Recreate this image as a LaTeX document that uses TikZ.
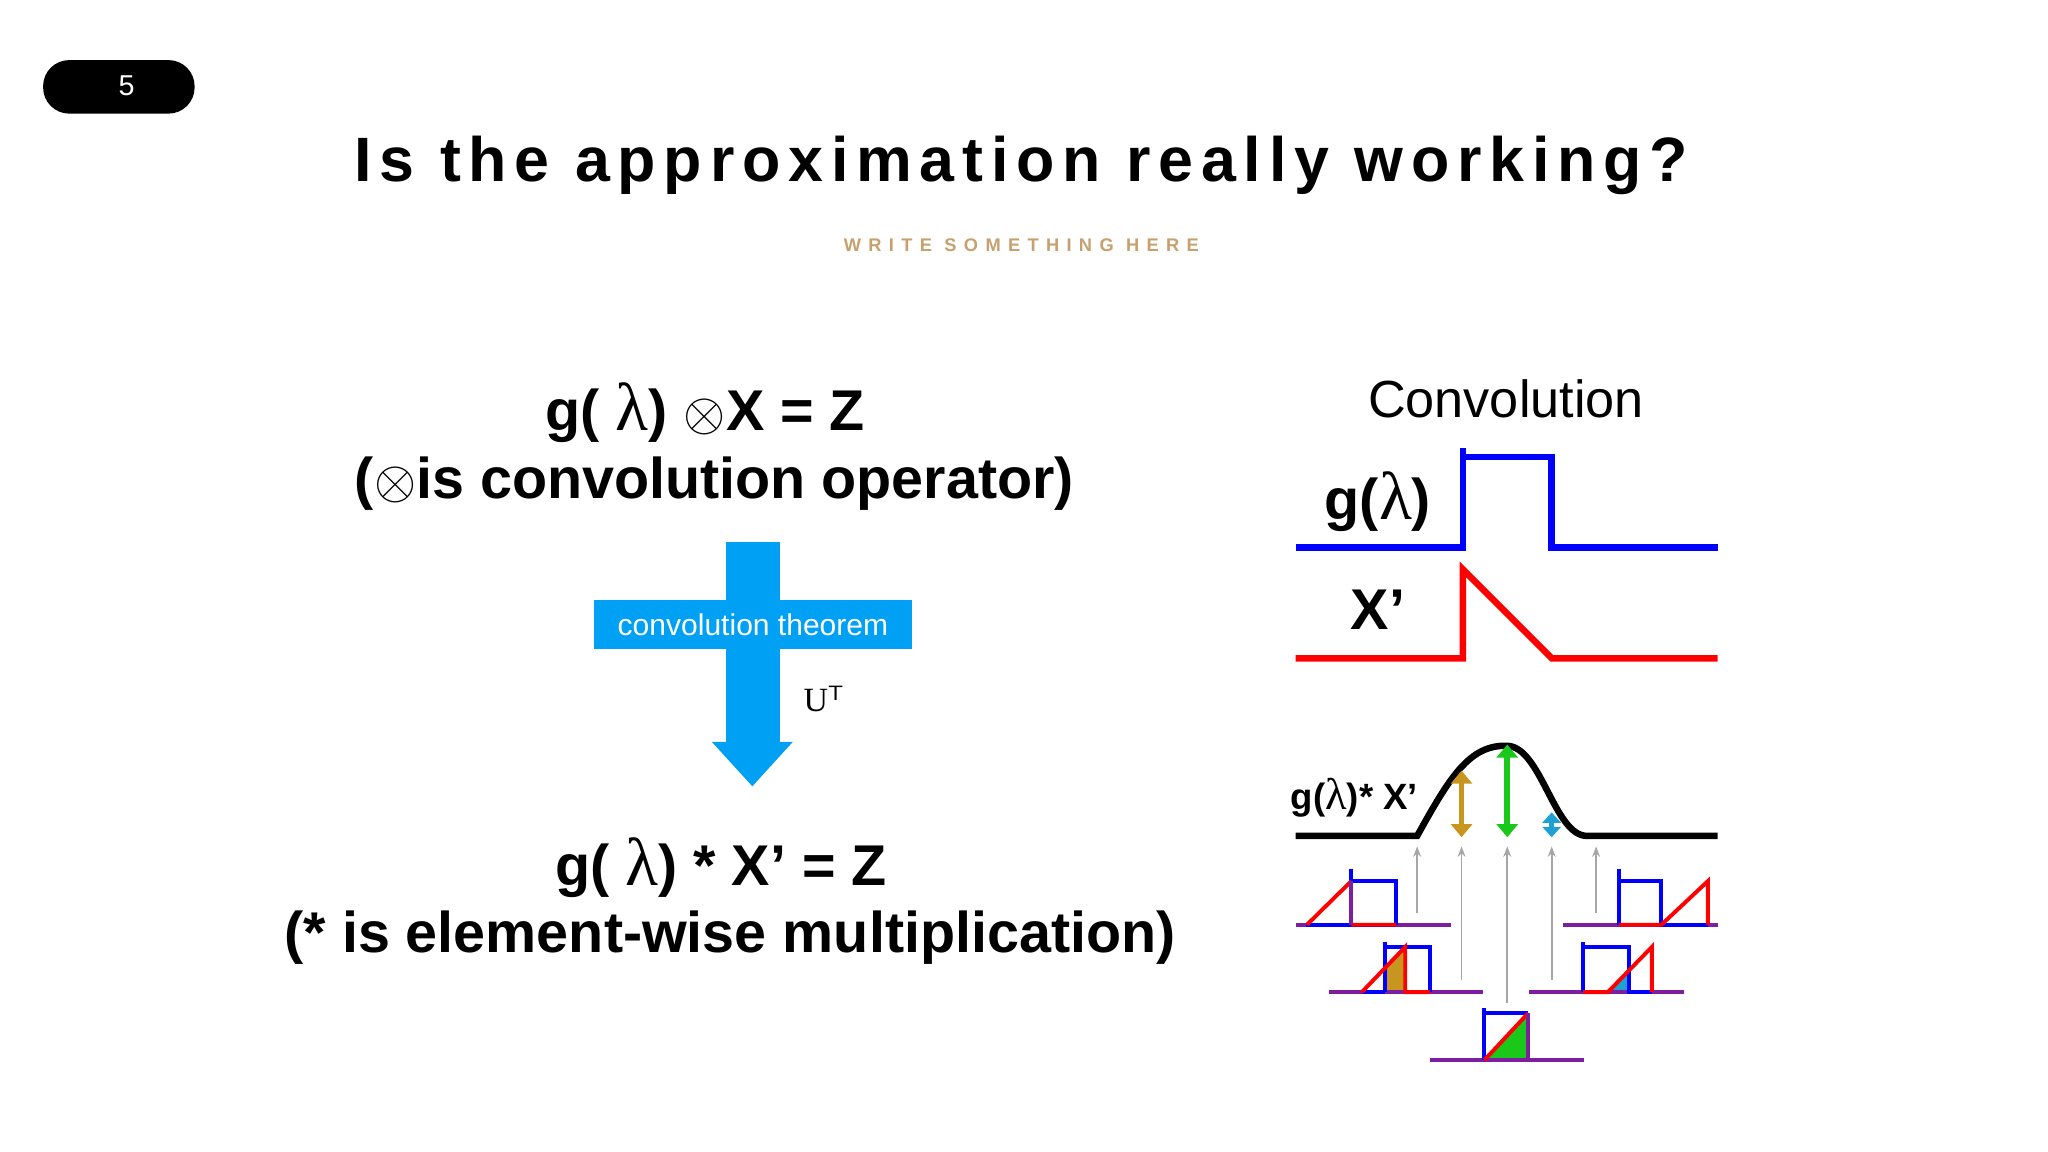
\documentclass[tikz,border=0pt]{standalone}
\usepackage{fontspec}
\setmainfont{Liberation Sans}
\newfontfamily\spacedfont[LetterSpace=12.5]{Liberation Sans}
\newfontfamily\wideSmall[LetterSpace=40]{Liberation Sans}
\newfontfamily\serifU{Liberation Serif}
\newcommand{\lam}{{\serifU\mdseries λ}}
\usetikzlibrary{arrows.meta}
\definecolor{arrowblue}{RGB}{0,160,245}
\definecolor{tan}{RGB}{200,160,110}
\definecolor{pbase}{RGB}{125,30,160}
\definecolor{gold}{RGB}{200,150,30}
\definecolor{grn}{RGB}{25,200,25}
\definecolor{cyn}{RGB}{30,160,210}
\tikzset{
  eq/.style={font=\bfseries\fontsize{22}{26}\selectfont, inner sep=0pt},
  base/.style={pbase, line width=1.5pt},
  rectl/.style={blue, line width=1.5pt},
  tril/.style={red, line width=1.5pt},
  grey/.style={gray!70, line width=0.7pt, -{Stealth[length=4pt,width=3pt]}},
  dbl/.style={line width=2.2pt, {Triangle[length=5pt,width=8pt]}-{Triangle[length=5pt,width=8pt]}},
}
\begin{document}
\begin{tikzpicture}[x=0.5pt,y=-0.5pt]
\useasboundingbox (0,0) rectangle (1568,882);
% page pill
\fill[black, rounded corners=10pt] (33,46) rectangle (149,87);
\node[white, font=\fontsize{11}{13}\selectfont] (pg) at (97,66) {5};
% title
\node[font=\spacedfont\bfseries\fontsize{24}{28}\selectfont, inner sep=0pt] (title) at (782,127) {Is the approximation really working?};
\node[font=\wideSmall\bfseries\fontsize{7}{9}\selectfont, text=tan, inner sep=0pt] (sub) at (782,188) {WRITE SOMETHING HERE};
% equations
\node[eq] (e1) at (540,316) {g( {\fontsize{26}{26}\selectfont\lam}) \textmd{$\otimes$}X = Z};
\node[eq] (e2) at (547,370) {(\textmd{$\otimes$}is convolution operator)};
\node[eq] (e3) at (552,664) {g( {\fontsize{26}{26}\selectfont\lam}) * X’ = Z};
\node[eq] (e4) at (559,718) {(* is element-wise multiplication)};
% big arrow
\fill[arrowblue] (556,415) -- (597,415) -- (597,568) -- (607,568) -- (576,602) -- (545,568) -- (556,568) -- cycle;
\node[fill=arrowblue, text=white, minimum width=121.5pt, minimum height=19pt, inner sep=0pt, font=\fontsize{11.5}{13}\selectfont] (thm) at (576.5,478) {convolution theorem};
\node[font=\serifU\fontsize{13}{15}\selectfont, inner sep=0pt] (ut) at (631,535) {U$^{\textrm{\fontsize{8}{9}\selectfont\sffamily T}}$};
% convolution panel
\node[font=\fontsize{20}{24}\selectfont, inner sep=0pt] (conv) at (1153,305) {Convolution};
\node[eq] (gl) at (1055,384) {g({\fontsize{26}{26}\selectfont\lam})};
\node[eq] (xp) at (1055,467) {X’};
\draw[blue, line width=2.5pt] (992,419) -- (1120,419) -- (1120,343) (1120,350) -- (1188,350) -- (1188,419) -- (1315,419);
\draw[red, line width=2.5pt] (992,504) -- (1120,504) -- (1120,436) -- (1188,504) -- (1315,504);
% result curve
\draw[black, line width=2.5pt] (992,640) -- (1085,640) .. controls (1110,595) and (1125,570) .. (1154,571) .. controls (1180,572) and (1190,640) .. (1215,640) -- (1315,640);
\node[font=\bfseries\fontsize{14}{16}\selectfont, inner sep=0pt] (gx) at (1037,611) {g({\fontsize{17}{17}\selectfont\lam})* X’};
\coordinate (ga) at (1119,590); \coordinate (gb) at (1119,641);
\coordinate (na) at (1154,570); \coordinate (nb) at (1154,641);
\coordinate (ca) at (1188,622); \coordinate (cb) at (1188,641);
\draw[dbl, gold] (gb) -- (ga);
\draw[dbl, grn] (nb) -- (na);
\draw[cyn, line width=2pt, {Triangle[length=4pt,width=7pt]}-{Triangle[length=4pt,width=7pt]}] (cb) -- (ca);
% grey arrows
\foreach \x/\yb in {1085/699, 1119/750, 1154/768, 1188/750, 1222/699}
  \draw[grey] (\x,\yb) -- (\x,648);
% small plots
\draw[base] (992,708) -- (1111,708);
\draw[rectl] (1000,708) -- (1069,708) (1034.6,665) -- (1034.6,674.6) -- (1069,674.6) -- (1069,708);
\draw[tril] (1000.6,708) -- (1034.6,674.6) (1034.6,708) -- (1069,708);
\draw[pbase, line width=1.5pt] (1034.6,674.6) -- (1034.6,708);
\draw[base] (1197,708) -- (1315,708);
\draw[rectl] (1239.7,665) -- (1239.7,708) (1239.7,674.6) -- (1272,674.6) -- (1272,708) -- (1307.6,708);
\draw[tril] (1239.7,708) -- (1272,708) -- (1307.6,674.6) -- (1307.6,708);
\fill[gold] (1060.5,759.6) -- (1060.5,741) -- (1075.9,725) -- (1075.9,759.6) -- cycle;
\draw[base] (1017.7,759.6) -- (1135.6,759.6);
\draw[rectl] (1042.6,759.6) -- (1060.5,759.6) (1060.5,721.4) -- (1060.5,759.6) (1060.5,725) -- (1095,725) -- (1095,759.6);
\draw[tril] (1042.6,759.6) -- (1075.9,725) -- (1075.9,759.6) -- (1095,759.6);
\fill[cyn] (1231,759.6) -- (1247,743.2) -- (1247,759.6) -- cycle;
\draw[base] (1171,759.6) -- (1289.5,759.6);
\draw[rectl] (1212,721.4) -- (1212,759.6) (1212,725) -- (1247,725) -- (1247,759.6) -- (1264.7,759.6);
\draw[tril] (1212,759.6) -- (1231,759.6) -- (1264.7,725) -- (1264.7,759.6);
\fill[grn] (1136.5,811.6) -- (1170,775.7) -- (1170,811.6) -- cycle;
\draw[base] (1095,811.6) -- (1213,811.6);
\draw[rectl] (1136.5,771.8) -- (1136.5,811.6) (1136.5,775.7) -- (1170,775.7);
\draw[tril] (1136.5,811.6) -- (1170,775.7);
\draw[pbase, line width=1.5pt] (1170,775.7) -- (1170,811.6);
\end{tikzpicture}
\end{document}
